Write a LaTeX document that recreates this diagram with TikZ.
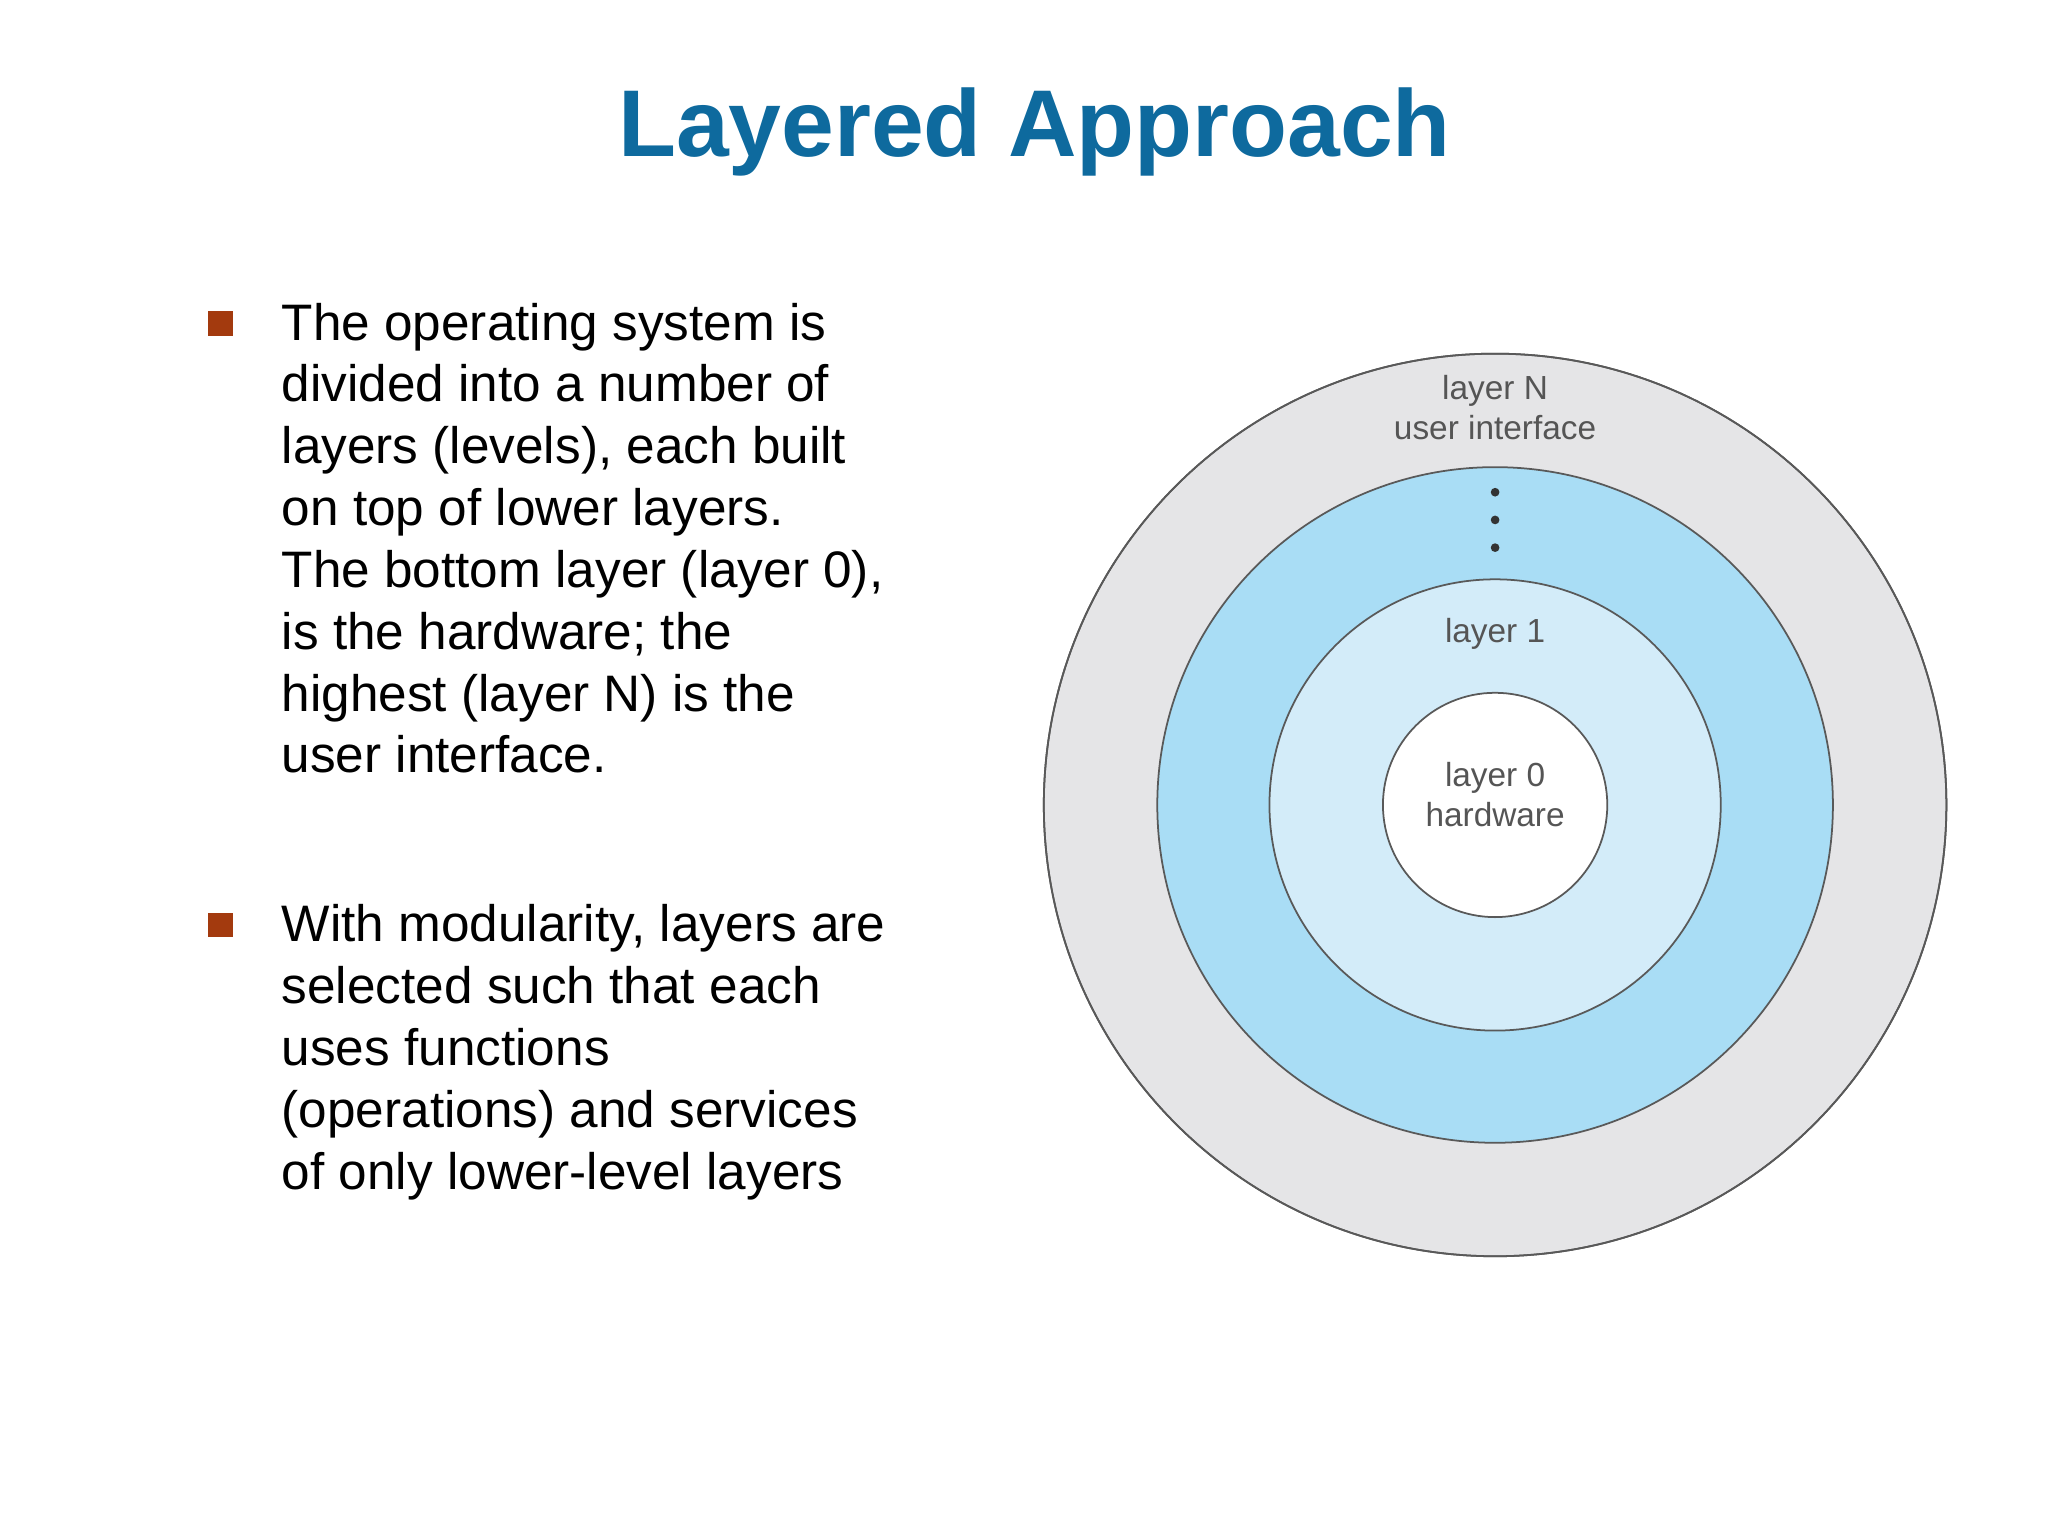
\documentclass[tikz,border=0pt]{standalone}
\usepackage{fontspec}
\setmainfont{Liberation Sans}
\definecolor{titleblue}{HTML}{0E6A9E}
\definecolor{bulletred}{HTML}{A33A0E}
\definecolor{ringgray}{HTML}{E5E5E7}
\definecolor{ringblue}{HTML}{A9DDF5}
\definecolor{ringlight}{HTML}{D3ECF9}
\definecolor{labelgray}{HTML}{555555}
\begin{document}
\begin{tikzpicture}[x=0.0132cm,y=-0.0132cm,
  ring/.style={draw=gray!70!black,line width=0.5pt},
  lbl/.style={text=labelgray,font=\fontsize{9.5pt}{11.3pt}\selectfont,align=center,inner sep=0pt},
  bullet/.style={fill=bulletred,minimum size=7pt,inner sep=0pt},
  body/.style={anchor=north west,align=left,inner sep=0pt,font=\fontsize{14.6pt}{17.6pt}\selectfont}]
\useasboundingbox[fill=white] (0,0) rectangle (1552,1164);
\node[font=\bfseries\fontsize{27pt}{32pt}\selectfont,text=titleblue] (title) at (784,100) {Layered Approach};
\node[bullet] (b1) at (167,245) {};
\node[bullet] (b2) at (167,701) {};
\node[body] (t1) at (213,229) {The operating system is\\divided into a number of\\layers (levels), each built\\on top of lower layers.\\The bottom layer (layer 0),\\is the hardware; the\\highest (layer N) is the\\user interface.};
\node[body] (t2) at (213,685) {With modularity, layers are\\selected such that each\\uses functions\\(operations) and services\\of only lower-level layers};
\coordinate (c) at (1133,610);
\fill[ring,fill=ringgray] (c) circle[radius=342*0.0132cm];
\fill[ring,fill=ringblue] (c) circle[radius=256*0.0132cm];
\fill[ring,fill=ringlight] (c) circle[radius=171*0.0132cm];
\fill[ring,fill=white] (c) circle[radius=85*0.0132cm];
\draw[ring] (c) circle[radius=342*0.0132cm];
\node[lbl] (lN) at (1133,309) {layer N\\user interface};
\foreach \yy/\n in {373/d1,394/d2,415/d3} \fill[black!80] (1133,\yy) circle[radius=3.3*0.0132cm];
\node[lbl] (l1) at (1133,480) {layer 1};
\node[lbl] (l0) at (1133,602) {layer 0\\hardware};
\end{tikzpicture}
\end{document}
